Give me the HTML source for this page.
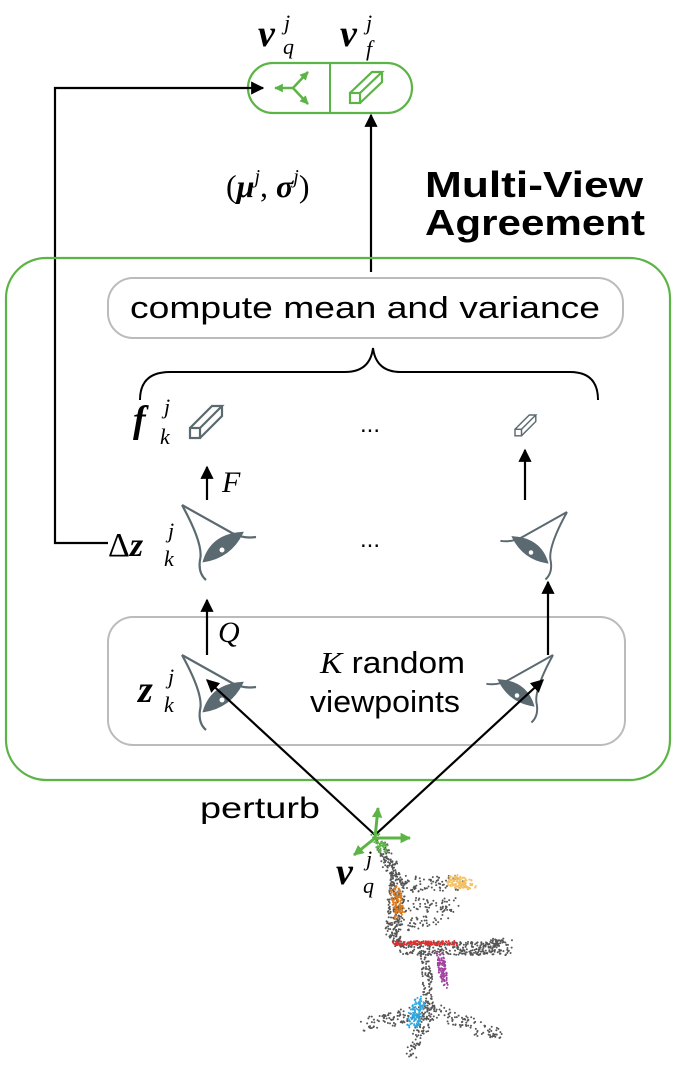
<!DOCTYPE html>
<html><head><meta charset="utf-8"><style>
body{margin:0;background:#fff;}
svg{display:block;font-family:"Liberation Sans",sans-serif;}
.m{font-family:"Liberation Serif",serif;font-style:italic;}
</style></head><body>
<svg id="s" width="677" height="1081" viewBox="0 0 677 1081" xmlns="http://www.w3.org/2000/svg">
<defs>
<marker id="ah" viewBox="0 0 10 10" refX="9" refY="5" markerWidth="6" markerHeight="6" orient="auto"><path d="M0,0L10,5L0,10z" fill="#000"/></marker>
<marker id="gh" viewBox="0 0 10 10" refX="9" refY="5" markerWidth="3.5" markerHeight="3.5" orient="auto"><path d="M0,0L10,5L0,10z" fill="#5db446"/></marker>
<g id="eye" fill="none" stroke="#5a6a70" stroke-width="2.2">
<path d="M0,0 L50,28 Q62,34 74,32"/>
<path d="M0,0 Q22,40 18,55 Q16,68 24,75"/>
<path d="M22,56 Q30,30 60,28 Q48,52 22,56z" fill="#5a6a70"/>
<circle cx="40" cy="45" r="2.5" fill="#fff" stroke="none"/>
</g>
<g id="bar" fill="none" stroke="#5a6a70" stroke-width="2.2">
<rect x="0" y="22" width="10" height="10"/><path d="M0,22 L22,0 L32,0 L10,22 M32,0 L32,10 L10,32"/>
</g>
</defs>
<rect x="248" y="63" width="164" height="50" rx="25" fill="none" stroke="#5db446" stroke-width="2.2"/>
<line x1="330" y1="63" x2="330" y2="113" stroke="#5db446" stroke-width="2"/>
<g stroke="#5db446" stroke-width="2.5" fill="none" marker-end="url(#gh)">
<line x1="293" y1="88" x2="275" y2="88"/><line x1="293" y1="88" x2="308" y2="72"/><line x1="293" y1="88" x2="308" y2="104"/>
</g>
<g fill="none" stroke="#5db446" stroke-width="2.2"><rect x="350" y="93" width="10" height="10"/><path d="M350,93 L372,72 L382,72 L360,93 M382,72 L382,82 L360,103"/></g>
<text x="258" y="46" class="m" font-size="38" font-weight="bold">v</text><text x="284" y="30" class="m" font-size="22">j</text><text x="283" y="54" class="m" font-size="22">q</text>
<text x="340" y="46" class="m" font-size="38" font-weight="bold">v</text><text x="366" y="30" class="m" font-size="22">j</text><text x="366" y="56" class="m" font-size="22">f</text>
<polyline points="108,543 55,543 55,88 263,88" fill="none" stroke="#000" stroke-width="2.2" marker-end="url(#ah)"/>
<line x1="371" y1="272" x2="371" y2="115" stroke="#000" stroke-width="2.2" marker-end="url(#ah)"/>
<text x="226" y="197" font-family="Liberation Serif,serif" font-size="32">(<tspan font-style="italic" font-weight="bold">μ</tspan><tspan font-size="20" dy="-14" font-style="italic">j</tspan><tspan dy="14">, </tspan><tspan font-style="italic" font-weight="bold">σ</tspan><tspan font-size="20" dy="-14" font-style="italic">j</tspan><tspan dy="14">)</tspan></text>
<text x="425" y="197" font-size="36" font-weight="bold" textLength="218" lengthAdjust="spacingAndGlyphs">Multi-View</text>
<text x="425" y="235" font-size="36" font-weight="bold" textLength="220" lengthAdjust="spacingAndGlyphs">Agreement</text>
<rect x="6" y="258" width="664" height="522" rx="40" fill="none" stroke="#5db446" stroke-width="2.2"/>
<rect x="108" y="278" width="515" height="60" rx="25" fill="none" stroke="#bbb" stroke-width="2"/>
<text x="130" y="318" font-size="31" textLength="470" lengthAdjust="spacingAndGlyphs">compute mean and variance</text>
<path d="M140,400 Q140,372 170,372 L345,372 Q370,372 373,348 Q376,372 401,372 L570,372 Q598,372 598,400" fill="none" stroke="#000" stroke-width="2"/>
<text x="133" y="432" class="m" font-size="38" font-weight="bold">f</text><text x="164" y="414" class="m" font-size="22">j</text><text x="160" y="444" class="m" font-size="22">k</text>
<use href="#bar" x="190" y="406"/>
<g transform="translate(515,415) scale(0.65)"><use href="#bar"/></g>
<text x="370" y="432" font-size="24" text-anchor="middle">...</text>
<text x="370" y="547" font-size="24" text-anchor="middle">...</text>
<line x1="207" y1="500" x2="207" y2="467" stroke="#000" stroke-width="2.2" marker-end="url(#ah)"/>
<text x="222" y="492" class="m" font-size="30">F</text>
<line x1="525" y1="500" x2="525" y2="450" stroke="#000" stroke-width="2.2" marker-end="url(#ah)"/>
<text x="108" y="556" font-family="Liberation Serif,serif" font-size="34">Δ<tspan font-style="italic" font-weight="bold">z</tspan></text><text x="168" y="538" class="m" font-size="22">j</text><text x="164" y="566" class="m" font-size="22">k</text>
<use href="#eye" x="182" y="505"/>
<g transform="translate(567,512) scale(-1,1) scale(0.9)"><use href="#eye"/></g>
<rect x="108" y="617" width="517" height="128" rx="25" fill="none" stroke="#bbb" stroke-width="2"/>
<line x1="207" y1="655" x2="207" y2="600" stroke="#000" stroke-width="2.2" marker-end="url(#ah)"/>
<text x="218" y="642" class="m" font-size="30">Q</text>
<line x1="548" y1="655" x2="548" y2="582" stroke="#000" stroke-width="2.2" marker-end="url(#ah)"/>
<text x="320" y="673" font-size="31" textLength="145" lengthAdjust="spacingAndGlyphs"><tspan font-family="Liberation Serif,serif" font-style="italic">K</tspan> random</text>
<text x="310" y="712" font-size="31" textLength="150" lengthAdjust="spacingAndGlyphs">viewpoints</text>
<text x="138" y="702" class="m" font-size="38" font-weight="bold">z</text><text x="168" y="684" class="m" font-size="22">j</text><text x="164" y="712" class="m" font-size="22">k</text>
<use href="#eye" x="182" y="655"/>
<g transform="translate(553,655) scale(-1,1) scale(0.9)"><use href="#eye"/></g>
<line x1="375" y1="835" x2="207" y2="680" stroke="#000" stroke-width="2.2" marker-end="url(#ah)"/>
<line x1="375" y1="835" x2="543" y2="680" stroke="#000" stroke-width="2.2" marker-end="url(#ah)"/>
<text x="200" y="818" font-size="30" textLength="120" lengthAdjust="spacingAndGlyphs">perturb</text>
<g id="chair"></g>
<g stroke="#5db446" stroke-width="3" fill="none" marker-end="url(#gh)">
<line x1="375" y1="838" x2="378" y2="808"/><line x1="375" y1="838" x2="410" y2="838"/><line x1="375" y1="838" x2="354" y2="855"/>
</g>
<text x="336" y="884" class="m" font-size="38" font-weight="bold">v</text><text x="366" y="866" class="m" font-size="22">j</text><text x="363" y="893" class="m" font-size="22">q</text>
</svg>
<script>
var g=document.getElementById('chair'),ns="http://www.w3.org/2000/svg";
var seed=7;function r(){seed=(seed*16807)%2147483647;return seed/2147483647;}
function seg(x1,y1,x2,y2,n,w,c){n*=2;for(var i=0;i<n;i++){var t=r();var e=document.createElementNS(ns,'circle');e.setAttribute('cx',x1+(x2-x1)*t+(r()-.5)*w);e.setAttribute('cy',y1+(y2-y1)*t+(r()-.5)*w);e.setAttribute('r',1);e.setAttribute('fill',c);g.appendChild(e);}}
var k='#555';
seg(380,845,398,880,60,12,k);seg(398,880,393,935,90,16,k);seg(393,935,400,945,20,8,k);
seg(400,945,500,945,80,6,k);seg(400,952,495,952,60,6,k);seg(495,945,505,948,30,16,k);
seg(405,885,460,882,40,16,k);seg(405,905,455,905,30,14,k);seg(405,925,445,920,20,12,k);
seg(425,950,430,1010,50,10,k);seg(430,1010,365,1025,50,14,k);seg(430,1010,500,1035,50,14,k);seg(430,1010,410,1055,40,12,k);
seg(395,890,400,915,60,10,'#e07b1a');seg(450,880,470,885,60,12,'#f5c060');seg(395,943,455,943,70,4,'#e03030');
seg(440,955,445,985,50,8,'#a040a0');seg(420,1000,412,1025,60,12,'#30a8e0');seg(375,838,385,850,30,10,'#5db446');
</script>
</body></html>
